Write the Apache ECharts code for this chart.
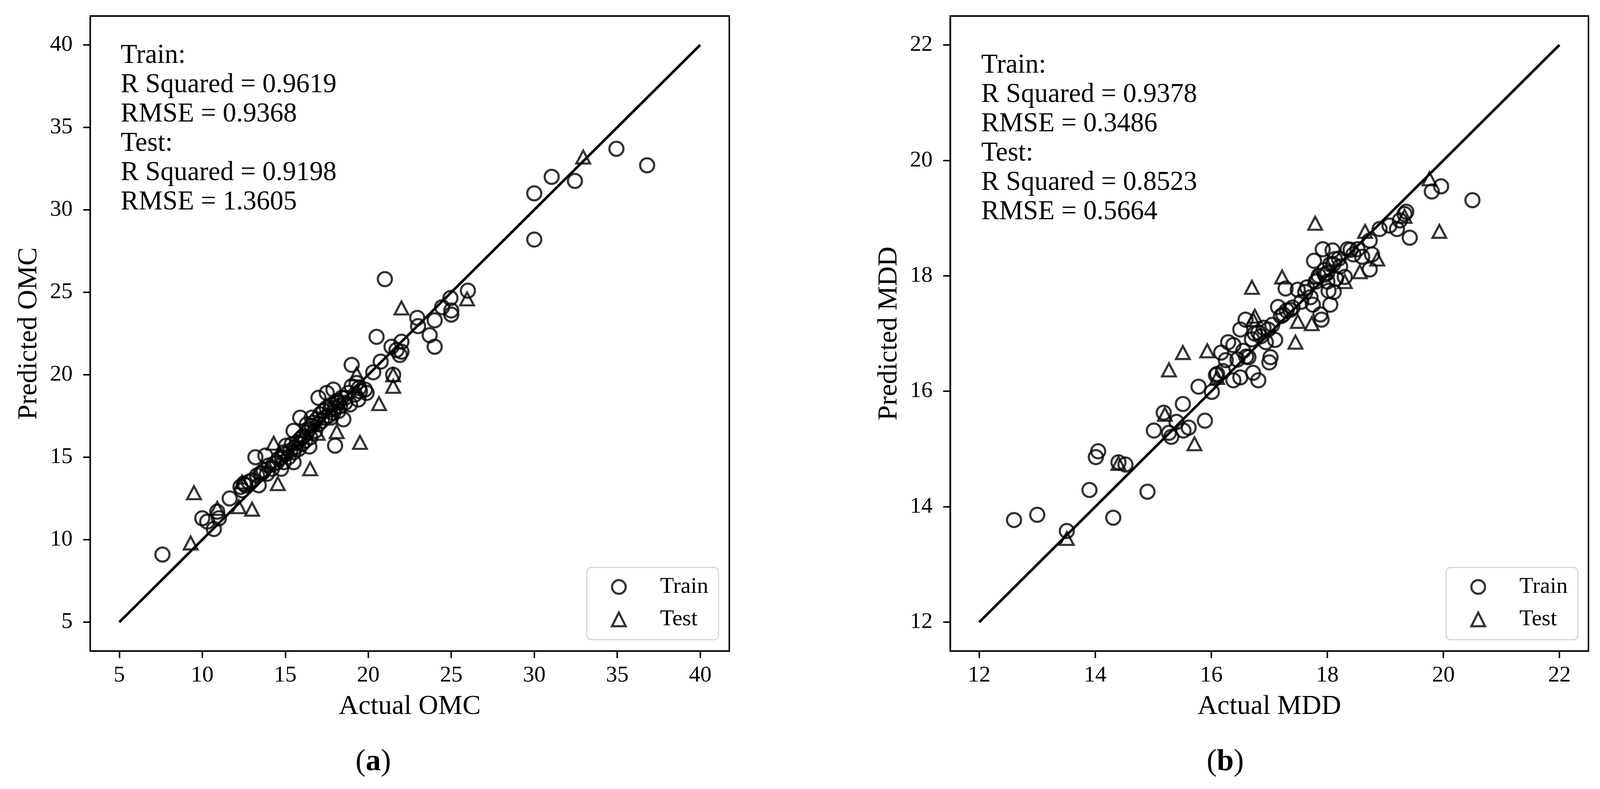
<!DOCTYPE html>
<html><head><meta charset="utf-8">
<script src="https://cdn.jsdelivr.net/npm/echarts@6/dist/echarts.min.js"></script>
<style>html,body{margin:0;padding:0;background:#fff}#c{width:4097px;height:2019px}</style>
</head><body><div id="c"></div>
<script>
// ---- data ----
const omcTicks = [5, 10, 15, 20, 25, 30, 35, 40];
const mddTicks = [12, 14, 16, 18, 20, 22];
const omcLine = [[5, 5], [40, 40]];
const mddLine = [[12, 12], [22, 22]];

const omcTrain = [
 [7.6,9.1],[10.0,11.3],[10.3,11.1],[10.7,10.65],[10.9,11.7],[11.0,11.3],[11.65,12.5],[12.3,13.2],[12.5,13.4],[12.4,13.0],
 [12.6,13.3],[12.8,13.5],[13.0,13.6],[13.2,15.0],[13.4,13.3],[13.3,13.9],[13.5,14.0],[13.6,14.05],[13.7,14.2],[13.8,15.1],
 [13.9,14.0],[14.0,14.5],[14.2,14.3],[14.3,14.6],[14.5,14.7],[14.6,14.9],[14.75,14.3],[14.8,15.0],[14.9,15.3],[14.9,14.7],
 [15.05,15.7],[15.0,15.2],[15.2,15.0],[15.3,15.4],[15.4,15.8],[15.5,14.7],[15.5,16.6],[15.5,15.3],[15.6,15.6],[15.7,15.9],
 [15.8,15.5],[15.9,17.4],[15.9,16.1],[16.0,16.2],[16.0,15.8],[16.1,16.3],[16.2,16.0],[16.3,17.0],[16.3,16.5],[16.45,15.65],
 [16.4,16.7],[16.5,16.2],[16.6,17.4],[16.6,16.9],[16.7,17.1],[16.8,16.6],[16.9,17.3],[17.0,18.6],[17.0,17.0],[17.1,17.6],
 [17.2,17.2],[17.3,17.8],[17.4,17.4],[17.5,18.9],[17.5,18.0],[17.6,17.5],[17.75,17.4],[17.7,17.9],[17.8,18.2],[17.9,19.1],
 [17.9,17.7],[18.0,15.7],[18.0,18.0],[18.1,18.4],[18.2,18.3],[18.2,17.8],[18.3,18.1],[18.4,18.6],[18.5,17.3],[18.6,18.6],
 [18.6,18.3],[18.8,18.9],[18.9,18.2],[19.0,20.6],[19.0,19.3],[19.2,18.8],[19.3,19.5],[19.4,18.5],[19.45,19.2],[19.5,19.0],
 [19.9,18.9],[19.8,19.1],[20.3,20.15],[20.5,22.3],[20.75,20.8],[21.0,25.8],[21.4,21.7],[21.5,20.0],[21.7,21.5],[21.9,21.2],
 [22.0,22.0],[22.0,21.4],[22.95,23.45],[23.0,22.95],[23.7,22.4],[24.0,21.7],[24.0,23.3],[24.45,24.1],[24.95,24.65],[25.0,23.65],
 [25.0,23.9],[26.0,25.1],[30.0,31.0],[30.0,28.2],[31.05,32.0],[32.45,31.75],[34.95,33.7],[36.8,32.7]
];
const omcTest = [
 [9.3,9.8],[9.5,12.85],[10.9,11.9],[12.2,12.0],[12.4,13.5],[13.0,11.85],[14.3,15.85],[14.55,13.4],[16.5,14.3],[16.95,16.45],
 [18.1,16.55],[19.3,20.05],[19.5,15.9],[20.65,18.25],[21.5,19.3],[21.5,20.0],[22.0,24.05],[25.95,24.6],[32.95,33.2]
];

const mddTrain = [
 [12.6,13.77],[13.0,13.86],[13.51,13.58],[13.9,14.29],[14.01,14.86],[14.05,14.96],[14.31,13.81],[14.4,14.77],[14.52,14.73],[14.9,14.26],
 [15.01,15.32],[15.18,15.63],[15.27,15.28],[15.31,15.21],[15.4,15.47],[15.51,15.78],[15.52,15.32],[15.61,15.37],[15.89,15.49],[15.78,16.08],
 [16.01,15.99],[16.08,16.28],[16.17,16.67],[16.25,16.54],[16.29,16.85],[16.38,16.19],[16.38,16.8],[16.5,17.07],[16.5,16.24],[16.59,17.24],
 [16.64,16.59],[16.72,16.32],[16.81,16.19],[16.81,17.02],[16.94,16.85],[16.98,17.07],[17.02,16.59],[17.0,16.5],[17.1,16.89],[17.15,17.46],
 [17.24,17.33],[17.28,17.78],[17.36,17.41],[17.49,17.76],[17.62,17.72],[17.71,17.63],[17.75,17.5],[17.77,18.26],[17.88,17.33],[17.9,17.24],
 [17.92,18.46],[17.96,18.02],[18.02,17.74],[18.05,17.5],[18.09,18.44],[18.13,18.29],[18.11,17.72],[18.22,18.16],[18.3,17.98],[18.35,18.46],
 [18.45,18.37],[18.52,18.46],[18.6,18.33],[18.73,18.11],[18.77,18.37],[18.73,18.61],[18.9,18.81],[19.07,18.87],[19.2,18.81],[19.25,18.96],
 [19.33,19.07],[19.36,19.11],[19.42,18.66],[19.8,19.46],[19.96,19.55],[20.5,19.31],
 [16.45,16.55],[16.55,16.7],[16.7,16.9],[16.85,16.95],[16.9,17.1],[17.05,17.15],[17.2,17.3],[17.4,17.45],[17.55,17.55],[17.65,17.8],
 [17.8,17.9],[17.95,18.1],[18.0,17.9],[18.05,18.2],[18.15,17.95],[18.2,18.3],[18.4,18.45],[16.2,16.35],[16.1,16.3],[16.6,16.6],
 [16.75,17.0],[17.3,17.4],[17.85,18.0],[18.0,18.05],[18.1,18.2]
];
const mddTest = [
 [13.51,13.45],[14.4,14.75],[15.2,15.6],[15.27,16.37],[15.51,16.67],[15.71,15.09],[15.93,16.7],[16.1,16.24],[16.7,17.8],[16.72,17.24],
 [16.75,17.3],[17.22,17.98],[17.45,16.85],[17.49,17.21],[17.73,17.17],[17.79,18.91],[17.79,17.98],[18.3,17.9],[18.56,18.07],[18.65,18.77],
 [18.86,18.29],[19.33,19.03],[19.76,19.68],[19.93,18.77]
];

const omcText = 'Train:\nR Squared = 0.9619\nRMSE = 0.9368\nTest:\nR Squared = 0.9198\nRMSE = 1.3605';
const mddText = 'Train:\nR Squared = 0.9378\nRMSE = 0.3486\nTest:\nR Squared = 0.8523\nRMSE = 0.5664';
const legendNames = ['Train', 'Test'];

// ---- chart ----
const FONT = 'Liberation Serif';
const chart = echarts.init(document.getElementById('c'), null, {renderer: 'canvas', width: 4097, height: 2019});

function padRange(ticks) {
  const lo = ticks[0], hi = ticks[ticks.length - 1], m = (hi - lo) * 0.05;
  return [lo - m, hi + m];
}
function xAx(idx, ticks, name) {
  const r = padRange(ticks);
  return {
    type: 'value', gridIndex: idx, min: r[0], max: r[1], name: name,
    nameLocation: 'middle', nameGap: 108,
    nameTextStyle: {fontFamily: FONT, fontSize: 70, color: '#000'},
    axisLine: {show: true, onZero: false, lineStyle: {color: '#000', width: 3.8}},
    axisTick: {show: true, length: 18, lineStyle: {color: '#000', width: 3.8}, customValues: ticks},
    axisLabel: {fontFamily: FONT, fontSize: 58, color: '#000', margin: 34, customValues: ticks},
    splitLine: {show: false}
  };
}
function yAx(idx, ticks, name) {
  const r = padRange(ticks);
  return {
    type: 'value', gridIndex: idx, min: r[0], max: r[1], name: name,
    nameLocation: 'middle', nameGap: 121,
    nameTextStyle: {fontFamily: FONT, fontSize: 70, color: '#000'},
    axisLine: {show: true, onZero: false, lineStyle: {color: '#000', width: 3.8}},
    axisTick: {show: true, length: 18, lineStyle: {color: '#000', width: 3.8}, customValues: ticks},
    axisLabel: {fontFamily: FONT, fontSize: 58, color: '#000', margin: 45, customValues: ticks},
    splitLine: {show: false}
  };
}
const hollow = {color: 'rgba(0,0,0,0)', borderColor: '#000', borderWidth: 5.5, borderJoin: 'miter'};
function scatter(name, data, idx, symbol, size) {
  return {
    type: 'scatter', name: name, data: data, xAxisIndex: idx, yAxisIndex: idx,
    symbol: symbol, symbolSize: size, itemStyle: hollow, silent: true,
    emphasis: {disabled: true}, z: 3
  };
}
function refLine(data, idx) {
  return {
    type: 'line', name: 'ref', data: data, xAxisIndex: idx, yAxisIndex: idx,
    symbol: 'none', lineStyle: {color: '#000', width: 6.5}, silent: true, z: 4,
    emphasis: {disabled: true}
  };
}
function legend(left) {
  return {
    left: left, top: 1452, orient: 'vertical', data: legendNames, selectedMode: false,
    itemWidth: 35, itemHeight: 35, itemGap: 23, padding: [20, 26, 22, 62],
    borderColor: '#d6d6d6', borderWidth: 3, borderRadius: 12, backgroundColor: '#fff',
    itemStyle: {color: 'rgba(0,0,0,0)', borderColor: '#000', borderWidth: 5.5, borderJoin: 'miter'},
    textStyle: {fontFamily: FONT, fontSize: 58, lineHeight: 60, color: '#000', padding: [0, 0, 0, 83]}
  };
}
const annStyle = {fontFamily: FONT, fontSize: 69, fontWeight: 'normal', lineHeight: 75, color: '#000'};
const subRich = {
  n: {fontFamily: FONT, fontSize: 78, color: '#000', fontWeight: 'normal'},
  b: {fontFamily: FONT, fontSize: 78, color: '#000', fontWeight: 'bold'}
};

chart.setOption({
  animation: false,
  backgroundColor: '#fff',
  grid: [
    {left: 231, top: 41, width: 1636, height: 1625, show: true, borderColor: '#000', borderWidth: 3.8, backgroundColor: '#fff', outerBoundsMode: 'none', containLabel: false},
    {left: 2432.5, top: 41, width: 1634, height: 1625, show: true, borderColor: '#000', borderWidth: 3.8, backgroundColor: '#fff', outerBoundsMode: 'none', containLabel: false}
  ],
  xAxis: [xAx(0, omcTicks, 'Actual OMC'), xAx(1, mddTicks, 'Actual MDD')],
  yAxis: [yAx(0, omcTicks, 'Predicted OMC'), yAx(1, mddTicks, 'Predicted MDD')],
  title: [
    {text: omcText, left: 309, top: 105, padding: 0, textStyle: annStyle},
    {text: mddText, left: 2512, top: 130, padding: 0, textStyle: annStyle},
    {text: '{n|(}{b|a}{n|)}', left: 910, top: 1912, padding: 0, textStyle: {rich: subRich, lineHeight: 78}},
    {text: '{n|(}{b|b}{n|)}', left: 3089, top: 1912, padding: 0, textStyle: {rich: subRich, lineHeight: 78}}
  ],
  legend: [legend(1502), legend(3702)],
  series: [
    scatter('Train', omcTrain, 0, 'circle', 36),
    scatter('Test', omcTest, 0, 'triangle', [35, 33]),
    refLine(omcLine, 0),
    scatter('Train', mddTrain, 1, 'circle', 36),
    scatter('Test', mddTest, 1, 'triangle', [35, 33]),
    refLine(mddLine, 1)
  ]
});
</script></body></html>
